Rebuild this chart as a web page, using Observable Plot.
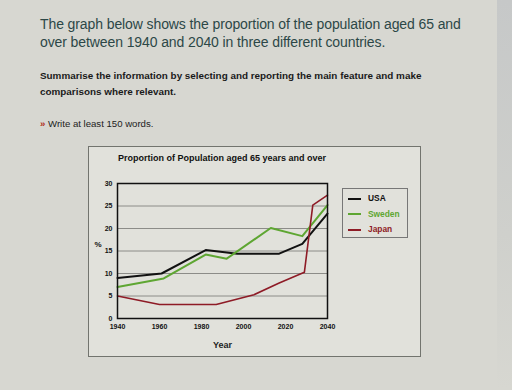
<!DOCTYPE html>
<html><head><meta charset="utf-8">
<script src="https://cdn.jsdelivr.net/npm/d3@7"></script>
<script src="https://cdn.jsdelivr.net/npm/@observablehq/plot@0.6"></script>
<style>
body{margin:0;width:512px;height:390px;overflow:hidden;background:#d7d7d1;position:relative;font-family:"Liberation Sans",Arial,sans-serif;}
.abs{position:absolute;white-space:nowrap;}
#strip{position:absolute;left:497px;top:0;width:15px;height:390px;background:linear-gradient(#c6c8c8,#cfd0cc 60%,#d7d7d1);}
#title{left:40px;top:15px;font-size:14px;line-height:18px;color:#2c4747;letter-spacing:-0.1px;}
#instr{left:40px;top:68px;font-size:9.9px;line-height:15.5px;font-weight:bold;color:#1a1a1a;}
#write{left:40px;top:118px;font-size:9.6px;color:#222;}
#write span{color:#b03020;font-weight:bold;}
#panel{position:absolute;left:88px;top:146px;width:331px;height:209px;border:1px solid #72746e;background:#e1e1db;}
#ctitle{left:29px;top:6px;font-size:9px;font-weight:bold;color:#111;}
#xlabel{left:124px;top:193px;font-size:9px;font-weight:bold;color:#222;}
#legend{position:absolute;left:253px;top:41px;width:64px;height:48px;border:1px solid #777;}
.li{position:absolute;left:5px;font-size:8.4px;font-weight:bold;}
.li i{display:inline-block;width:13px;height:2px;vertical-align:middle;margin-right:7px;}
</style></head>
<body>
<div id="strip"></div>
<div id="title" class="abs">The graph below shows the proportion of the population aged 65 and<br>over between 1940 and 2040 in three different countries.</div>
<div id="instr" class="abs">Summarise the information by selecting and reporting the main feature and make<br>comparisons where relevant.</div>
<div id="write" class="abs"><span>»</span> Write at least 150 words.</div>
<div id="panel">
  <div id="ctitle" class="abs">Proportion of Population aged 65 years and over</div>
  <div id="chart" style="position:absolute;left:0;top:0;"></div>
  <div id="xlabel" class="abs">Year</div>
  <div id="legend"></div>
</div>
<script>
const countries = ["USA", "Sweden", "Japan"];
const colors = ["#111111", "#5ea632", "#8e1b26"];
const usaYears = [1940, 1961, 1982, 1997, 2017, 2028, 2040];
const usaValues = [9, 10, 15.2, 14.4, 14.4, 16.6, 23.3];
const swedenYears = [1940, 1962, 1982, 1992, 2013, 2028, 2040];
const swedenValues = [7, 8.9, 14.2, 13.3, 20.1, 18.3, 25.2];
const japanYears = [1940, 1960, 1987, 2005, 2017, 2029, 2033, 2040];
const japanValues = [5, 3.1, 3.1, 5.3, 7.9, 10.3, 25.2, 27.4];
const yTicks = [0, 5, 10, 15, 20, 25, 30];
const xTicks = [1940, 1960, 1980, 2000, 2020, 2040];
const gridTicks = [5, 10, 15, 20, 25];

const rows = [];
[[usaYears, usaValues], [swedenYears, swedenValues], [japanYears, japanValues]].forEach(([ys, vs], i) => {
  ys.forEach((y, j) => rows.push({country: countries[i], year: y, value: vs[j]}));
});

const chart = Plot.plot({
  width: 331, height: 211,
  marginLeft: 28, marginTop: 36, marginRight: 93, marginBottom: 40,
  style: {background: "transparent", fontFamily: "Liberation Sans, Arial, sans-serif"},
  x: {domain: [1940, 2040]},
  y: {domain: [0, 30]},
  color: {domain: countries, range: colors},
  marks: [
    Plot.gridY(gridTicks, {stroke: "#8c8c88", strokeOpacity: 1, strokeWidth: 1}),
    Plot.axisY(yTicks, {tickSize: 0, tickPadding: 5, fontSize: 7, fontWeight: "bold", label: null, color: "#111"}),
    Plot.axisX(xTicks, {tickSize: 0, tickPadding: 6, fontSize: 7, fontWeight: "bold", label: null, tickFormat: d => String(d), color: "#111"}),
    Plot.text(["%"], {frameAnchor: "left", dx: -23, dy: -7, fontSize: 8, fontWeight: "bold", fill: "#111"}),
    Plot.line(rows, {x: "year", y: "value", z: "country", stroke: "country", strokeWidth: d => d.country === "Japan" ? 1.6 : 2}),
    Plot.frame({stroke: "#111", strokeWidth: 1.5})
  ]
});
document.getElementById("chart").appendChild(chart);

const legend = document.getElementById("legend");
countries.forEach((c, i) => {
  const d = document.createElement("div");
  d.className = "li";
  d.style.top = (4 + i * 15.5) + "px";
  d.style.color = i === 0 ? "#111" : colors[i];
  d.innerHTML = `<i style="background:${colors[i]}"></i>${c}`;
  legend.appendChild(d);
});
</script>
</body></html>
